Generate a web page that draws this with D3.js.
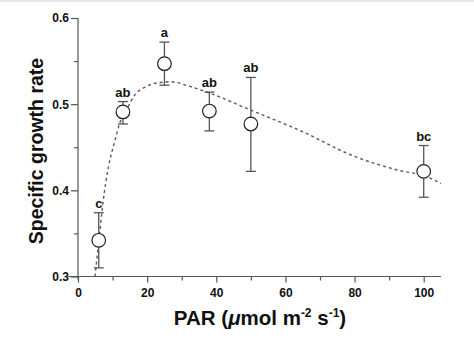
<!DOCTYPE html>
<html><head><meta charset="utf-8">
<script src="https://cdn.jsdelivr.net/npm/d3@7"></script>
<style>
html,body{margin:0;padding:0;background:#fff;}
text{font-family:"Liberation Sans",Arial,sans-serif;font-weight:bold;}
</style></head>
<body><svg id="c" width="474" height="348"></svg>
<script>
// Measured points
const par = [6, 13, 25, 38, 50, 100];
const growth = [0.342, 0.491, 0.547, 0.492, 0.477, 0.422];
const errLow = [0.310, 0.477, 0.522, 0.469, 0.422, 0.392];
const errHigh = [0.374, 0.503, 0.572, 0.514, 0.531, 0.452];
const letters = ["c", "ab", "a", "ab", "ab", "bc"];
// Fitted curve
const fitPar = [4.9, 6, 7.3, 8.8, 10.7, 12, 14, 16.5, 19.5, 23.5, 27, 32, 38, 50, 65, 79, 93, 100, 105];
const fitVal = [0.300, 0.340, 0.388, 0.427, 0.458, 0.477, 0.493, 0.511, 0.520, 0.525, 0.526, 0.521, 0.513, 0.493, 0.468, 0.441, 0.423, 0.417, 0.408];
// Ticks
const xMajor = [0, 20, 40, 60, 80, 100];
const xMinor = [10, 30, 50, 70, 90];
const yMajor = [0.3, 0.4, 0.5, 0.6];
const yMinor = [0.35, 0.45, 0.55];

const svg = d3.select("#c");
svg.append("rect").attr("x",0).attr("y",0).attr("width",474).attr("height",2).attr("fill","#e6e6e6");

const x = d3.scaleLinear().domain([0, 105]).range([78, 441]);
const y = d3.scaleLinear().domain([0.3, 0.6]).range([276.5, 18]);
const axisCol = "#555";

// X axis
const gx = svg.append("g").attr("transform", `translate(0,${y(0.3)})`);
gx.call(d3.axisBottom(x).tickValues(xMajor).tickSize(6).tickSizeOuter(0).tickFormat(d3.format("d")));
gx.append("g").call(d3.axisBottom(x).tickValues(xMinor).tickSize(4).tickFormat(""));
gx.selectAll(".domain").remove();
gx.append("line").attr("x1", x(-3)).attr("x2", x(105)).attr("stroke", axisCol).attr("stroke-width",1.2);
gx.selectAll("line").attr("stroke", axisCol).attr("stroke-width",1.2);
gx.selectAll("text").attr("font-size", 12).attr("fill","#111").attr("dy","1.05em").attr("y",8);

// Y axis
const gy = svg.append("g").attr("transform", `translate(${x(0)},0)`);
gy.call(d3.axisLeft(y).tickValues(yMajor).tickSize(7).tickSizeOuter(0).tickFormat(d3.format(".1f")));
gy.append("g").call(d3.axisLeft(y).tickValues(yMinor).tickSize(4).tickFormat(""));
gy.selectAll(".domain").remove();
gy.append("line").attr("y1", y(0.6)).attr("y2", y(0.3)+3).attr("stroke", axisCol).attr("stroke-width",1.2);
gy.selectAll("line").attr("stroke", axisCol).attr("stroke-width",1.2);
gy.selectAll("text").attr("font-size", 12).attr("fill","#111").attr("x",-9);

// Titles
svg.append("text").attr("transform","translate(43,151) rotate(-90)").attr("text-anchor","middle")
  .attr("font-size",19.5).attr("fill","#111").text("Specific growth rate");
const xt = svg.append("text").attr("x",260).attr("y",325).attr("text-anchor","middle").attr("font-size",20.5).attr("fill","#111");
xt.append("tspan").text("PAR (");
xt.append("tspan").attr("font-style","italic").text("\u03bc");
xt.append("tspan").text("mol m");
xt.append("tspan").attr("font-size",12).attr("dy",-8).text("-2");
xt.append("tspan").attr("dy",8).text(" s");
xt.append("tspan").attr("font-size",12).attr("dy",-8).text("-1");
xt.append("tspan").attr("dy",8).text(")");

// Fitted curve
const fit = fitPar.map((p,i)=>[p, fitVal[i]]);
svg.append("path").datum(fit)
  .attr("d", d3.line().x(d=>x(d[0])).y(d=>y(d[1])).curve(d3.curveMonotoneX))
  .attr("fill","none").attr("stroke","#5a5a5a").attr("stroke-width",1.4).attr("stroke-dasharray","3,3");

// Error bars
const pts = par.map((p,i)=>({p, g:growth[i], lo:errLow[i], hi:errHigh[i], l:letters[i]}));
const eb = svg.append("g").attr("stroke","#555").attr("stroke-width",1.3);
pts.forEach(d=>{
  eb.append("line").attr("x1",x(d.p)).attr("x2",x(d.p)).attr("y1",y(d.hi)).attr("y2",y(d.lo));
  eb.append("line").attr("x1",x(d.p)-5).attr("x2",x(d.p)+5).attr("y1",y(d.hi)).attr("y2",y(d.hi));
  eb.append("line").attr("x1",x(d.p)-5).attr("x2",x(d.p)+5).attr("y1",y(d.lo)).attr("y2",y(d.lo));
});
svg.append("g").selectAll("circle").data(pts).join("circle")
  .attr("cx",d=>x(d.p)).attr("cy",d=>y(d.g)).attr("r",6.8)
  .attr("fill","#fff").attr("stroke","#222").attr("stroke-width",1.2);
svg.append("g").selectAll("text").data(pts).join("text")
  .attr("x",d=>x(d.p)).attr("y",d=>y(d.hi)-5).attr("text-anchor","middle")
  .attr("font-size",13).attr("fill","#111").text(d=>d.l);
</script></body></html>
